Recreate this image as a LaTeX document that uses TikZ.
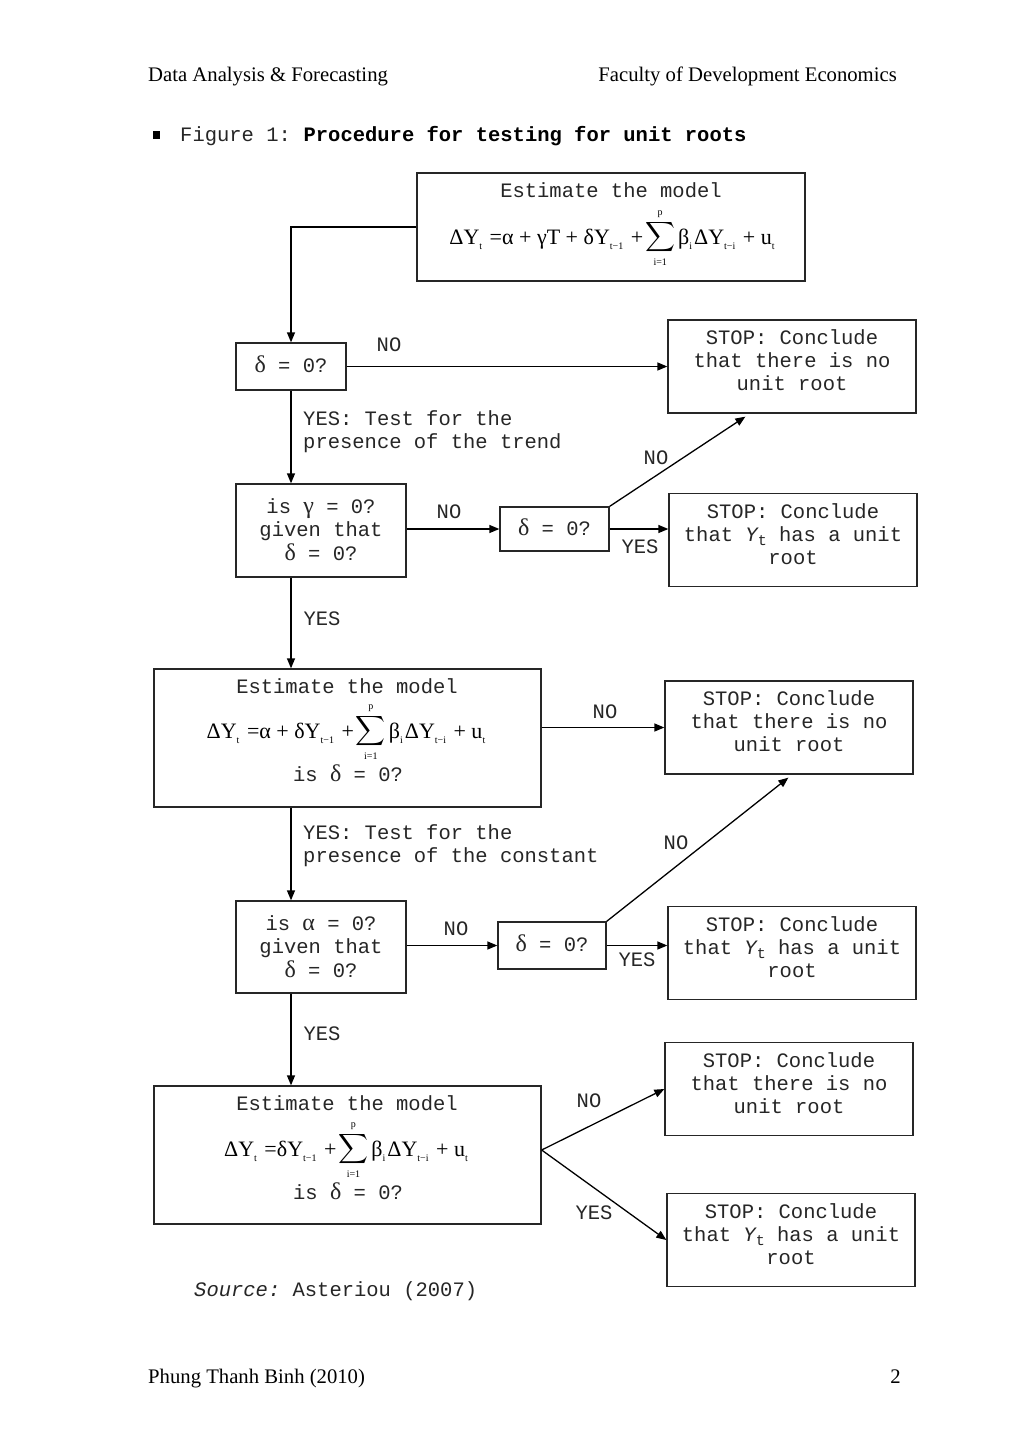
\documentclass[tikz,border=0pt]{standalone}
\usepackage{amsmath}
\usepackage{fontspec}
\setmainfont{Liberation Serif}
\newfontfamily\monof{Liberation Mono}
\usetikzlibrary{arrows.meta}
\newcommand\mt{\fontsize{20.5}{23}\selectfont\monof\color{black!85}}
\newcommand\ff{\fontsize{22}{24}\selectfont\rmfamily}
\newcommand\sbs[1]{\raisebox{-0.5ex}{\fontsize{10}{10}\selectfont\rmfamily #1}\hspace{2pt}}
\newcommand\bigsum{\hspace{2pt}\raisebox{0.2ex}{\fontsize{20}{20}\selectfont$\displaystyle\sum\limits_{\mbox{\fontsize{10}{10}\selectfont\rmfamily i=1}}^{\mbox{\fontsize{10}{10}\selectfont\rmfamily p}}$}\hspace{3pt}}
\newcommand\dl{{\fontsize{24}{24}\selectfont\rmfamily δ}}
\newcommand\Yt{{\itshape Y}\raisebox{-0.4ex}{\fontsize{15}{15}\selectfont t}}
\newcommand\hf{\fontsize{20.7}{22}\selectfont}
\tikzset{
  box/.style={draw=black!85, line width=1.3pt, rectangle, inner sep=0pt},
  arr/.style={draw=black, line width=1.3pt, -{Triangle[length=10pt,width=8pt]}},
  mtx/.style={font=\mt, inner sep=0pt, anchor=base},
  lbl/.style={font=\mt, inner sep=0pt, anchor=base},
  fml/.style={font=\ff, inner sep=0pt, anchor=base},
}
\newcommand\stopbox[5]{%
  \node[box, minimum width=248, minimum height=93] (#1) at (#2,#3) {};
  \node[mtx] (#1-a) at (#2,#3-22) {STOP: Conclude};
  \node[mtx] (#1-b) at (#2,#3+1) {#4};
  \node[mtx] (#1-c) at (#2,#3+24) {#5};
}
\begin{document}
\begin{tikzpicture}[x=1pt,y=-1pt]
\useasboundingbox (0,0) rectangle (1024,1450);
\fill[white] (0,0) rectangle (1024,1450);
% header / footer
\node[font=\hf, inner sep=0, anchor=base west] (hl) at (148,82) {Data Analysis \& Forecasting};
\node[font=\hf, inner sep=0, anchor=base east] (hr) at (897,82) {Faculty of Development Economics};
\node[font=\hf, inner sep=0, anchor=base west] (fl) at (148,1383) {Phung Thanh Binh (2010)};
\node[font=\hf, inner sep=0, anchor=base east] (fr) at (901,1383) {2};
% title
\node[fill=black, minimum width=7, minimum height=8, inner sep=0] (bul) at (156,135) {};
\node[font=\mt, inner sep=0, anchor=base west] (ttl) at (180,142) {Figure 1:\hspace{0.62em}\textbf{\color{black}Procedure for testing for unit roots}};
% top box
\node[box, minimum width=388, minimum height=108] (top) at (611,227) {};
\node[mtx] (top-a) at (611,197) {Estimate the model};
\node[fml] (top-f) at (612,244) {ΔY\sbs{t} =α + γT + δY\sbs{t−1} +\bigsum β\sbs{i}ΔY\sbs{t−i} + u\sbs{t}};
% delta 1
\node[box, minimum width=110, minimum height=47] (d1) at (291,366.5) {};
\node[mtx] (d1-t) at (291,372.5) {\dl{} = 0?};
\stopbox{s1}{792}{366.5}{that there is no}{unit root}
% gamma box
\node[box, minimum width=170, minimum height=93] (g) at (321,530.5) {};
\node[mtx] (g-a) at (321,513) {is {\fontsize{24}{24}\selectfont\rmfamily γ} = 0?};
\node[mtx] (g-b) at (321,536.5) {given that};
\node[mtx] (g-c) at (321,560.5) {\dl{} = 0?};
\node[box, minimum width=109, minimum height=44] (d2) at (554.5,529) {};
\node[mtx] (d2-t) at (554.5,535) {\dl{} = 0?};
\stopbox{s2}{793}{540}{that \Yt{} has a unit}{root}
% estimate 2
\node[box, minimum width=387, minimum height=138] (e2) at (347.5,738) {};
\node[mtx] (e2-a) at (347,693) {Estimate the model};
\node[fml] (e2-f) at (346,738) {ΔY\sbs{t} =α + δY\sbs{t−1} +\bigsum β\sbs{i}ΔY\sbs{t−i} + u\sbs{t}};
\node[mtx] (e2-q) at (348,781) {is \dl{} = 0?};
\stopbox{s3}{789}{727.5}{that there is no}{unit root}
% alpha box
\node[box, minimum width=170, minimum height=92] (a) at (321,947) {};
\node[mtx] (a-a) at (321,930) {is {\fontsize{24}{24}\selectfont\rmfamily α} = 0?};
\node[mtx] (a-b) at (321,953) {given that};
\node[mtx] (a-c) at (321,977) {\dl{} = 0?};
\node[box, minimum width=108, minimum height=47] (d3) at (552,945.5) {};
\node[mtx] (d3-t) at (552,951.5) {\dl{} = 0?};
\stopbox{s4}{792}{953}{that \Yt{} has a unit}{root}
% estimate 3
\node[box, minimum width=387, minimum height=138] (e3) at (347.5,1155) {};
\node[mtx] (e3-a) at (347,1110) {Estimate the model};
\node[fml] (e3-f) at (346,1156) {ΔY\sbs{t} =δY\sbs{t−1} +\bigsum β\sbs{i}ΔY\sbs{t−i} + u\sbs{t}};
\node[mtx] (e3-q) at (348,1199) {is \dl{} = 0?};
\stopbox{s5}{789}{1089}{that there is no}{unit root}
\stopbox{s6}{791}{1240}{that \Yt{} has a unit}{root}
% source
\node[font=\mt, inner sep=0, anchor=base west] (src) at (194,1296) {\textit{Source:}\hspace{0.6em}Asteriou (2007)};
% connectors
\draw[arr] (top.west) -| (d1.north);
\draw[arr] (d1.east) -- (s1.west);
\draw[arr] (d1.south) -- (d1.south |- g.north);
\draw[arr] (d2.west -| g.east) -- (d2.west);
\draw[arr] (d2.north east) -- ([xshift=78pt,yshift=-3pt]s1.south west);
\draw[arr] (d2.east) -- (d2.east -| s2.west);
\draw[arr] (d1.south |- g.south) -- (d1.south |- e2.north);
\draw[arr] (e2.east |- s3.west) -- (s3.west);
\draw[arr] (d1.south |- e2.south) -- (d1.south |- a.north);
\draw[arr] (d3.west -| a.east) -- (d3.west);
\draw[arr] (d3.north east) -- ([xshift=124pt,yshift=-3pt]s3.south west);
\draw[arr] (d3.east) -- (d3.east -| s4.west);
\draw[arr] (d1.south |- a.south) -- (d1.south |- e3.north);
\draw[arr] ([yshift=5pt]e3.east) -- (s5.west);
\draw[arr] ([yshift=5pt]e3.east) -- (s6.west);
% labels
\node[lbl] (l1) at (389,351) {NO};
\node[font=\mt, inner sep=0, anchor=north west, align=left] (l2) at (303,410) {YES: Test for the\\presence of the trend};
\node[lbl] (l3) at (656,464) {NO};
\node[lbl] (l4) at (449,518) {NO};
\node[lbl] (l5) at (640,553) {YES};
\node[lbl] (l6) at (322,625) {YES};
\node[lbl] (l7) at (605,718) {NO};
\node[font=\mt, inner sep=0, anchor=north west, align=left] (l8) at (303,824) {YES: Test for the\\presence of the constant};
\node[lbl] (l9) at (676,849) {NO};
\node[lbl] (l10) at (456,935) {NO};
\node[lbl] (l11) at (637,966) {YES};
\node[lbl] (l12) at (322,1040) {YES};
\node[lbl] (l13) at (589,1107) {NO};
\node[lbl] (l14) at (594,1219) {YES};
\end{tikzpicture}
\end{document}
